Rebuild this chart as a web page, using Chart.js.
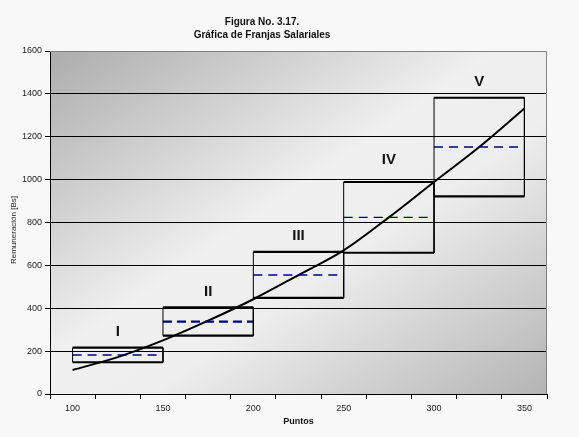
<!DOCTYPE html>
<html>
<head>
  <meta charset="utf-8">
  <title>Gráfica de Franjas Salariales</title>
  <script src="https://cdn.jsdelivr.net/npm/chart.js"></script>
  <style>
    html, body { margin: 0; padding: 0; background: #f8f8f8; }
    #wrap { position: relative; width: 579px; height: 437px; }
  </style>
</head>
<body>
<div id="wrap"><canvas id="chart"></canvas></div>
<script>
// puntos and salary curve
var puntos = [100, 125, 150, 175, 200, 225, 250, 275, 300, 325, 350];
var curva = [112, 172, 250, 342, 442, 555, 670, 824, 989, 1152, 1332];

// salary bands
var franjas = ['I', 'II', 'III', 'IV', 'V'];
var limites = [100, 150, 200, 250, 300, 350];
var minimos = [148, 272, 448, 659, 922];
var maximos = [216, 404, 663, 989, 1382];
var medios = [182, 338, 555, 824, 1152];

var xTickLabels = [100, 150, 200, 250, 300, 350];
var yTicks = [0, 200, 400, 600, 800, 1000, 1200, 1400, 1600];

var FONT = "'Liberation Sans', Arial, sans-serif";

var datasets = [];

for (var i = 0; i < franjas.length; i++) {
  var a = limites[i], b = limites[i + 1];
  datasets.push({
    label: 'Franja ' + franjas[i],
    data: [
      {x: a, y: minimos[i]}, {x: a, y: maximos[i]},
      {x: b, y: maximos[i]}, {x: b, y: minimos[i]},
      {x: a, y: minimos[i]}
    ],
    borderColor: '#000',
    borderWidth: 1,
    pointRadius: 0,
    tension: 0,
    segment: {
      borderWidth: function (ctx) {
        return ctx.p0.parsed.y === ctx.p1.parsed.y ? 2.2 : 1;
      }
    }
  });
  datasets.push({
    label: 'Medio ' + franjas[i],
    data: [{x: a, y: medios[i]}, {x: b, y: medios[i]}],
    borderColor: '#000080',
    borderWidth: i === 1 ? 2.2 : 1.4,
    borderDash: i === 1 ? [9, 5] : [9, 6],
    pointRadius: 0
  });
}

datasets.push({
  label: 'Curva',
  data: puntos.map(function (p, k) { return {x: p, y: curva[k]}; }),
  borderColor: '#000',
  borderWidth: 2,
  pointRadius: 0,
  tension: 0.4,
  cubicInterpolationMode: 'monotone'
});

// plot background: diagonal grey -> white -> grey
var bgPlugin = {
  id: 'bg',
  beforeDraw: function (chart) {
    var ca = chart.chartArea, ctx = chart.ctx;
    var W = ca.right - ca.left, H = ca.bottom - ca.top;
    var cx = (ca.left + ca.right) / 2, cy = (ca.top + ca.bottom) / 2;
    var k = W * H / (W * W + H * H);
    var g = ctx.createLinearGradient(cx - H * k, cy - W * k, cx + H * k, cy + W * k);
    g.addColorStop(0, '#acacac');
    g.addColorStop(0.45, '#f0f0f0');
    g.addColorStop(0.6, '#eeeeee');
    g.addColorStop(1, '#b4b4b4');
    ctx.save();
    ctx.fillStyle = g;
    ctx.fillRect(ca.left, ca.top, W, H);
    ctx.restore();
  },
  afterDraw: function (chart) {
    var ca = chart.chartArea, ctx = chart.ctx;
    var xs = chart.scales.x, ys = chart.scales.y;
    ctx.save();
    // grey frame top and right
    ctx.strokeStyle = '#808080';
    ctx.lineWidth = 1;
    ctx.beginPath();
    ctx.moveTo(ca.left, ca.top + 0.5);
    ctx.lineTo(ca.right - 0.5, ca.top + 0.5);
    ctx.lineTo(ca.right - 0.5, ca.bottom);
    ctx.stroke();

    // titles
    ctx.fillStyle = '#111';
    ctx.textAlign = 'center';
    ctx.textBaseline = 'middle';
    ctx.font = 'bold 10px ' + FONT;
    ctx.fillText('Figura No. 3.17.', 262, 22);
    ctx.fillText('Gráfica de Franjas Salariales', 262, 35);

    // y axis title
    ctx.save();
    ctx.translate(14, 230);
    ctx.rotate(-Math.PI / 2);
    ctx.fillStyle = '#222';
    ctx.font = '8px ' + FONT;
    ctx.fillText('Remuneración [Bs]', 0, 0);
    ctx.restore();

    // band numerals
    ctx.font = 'bold 15px ' + FONT;
    for (var i = 0; i < franjas.length; i++) {
      var x = xs.getPixelForValue((limites[i] + limites[i + 1]) / 2);
      var y = ys.getPixelForValue(maximos[i]) - (i === 3 ? 22 : 16);
      ctx.fillText(franjas[i], x, y);
    }
    ctx.restore();
  }
};

new Chart(document.getElementById('chart'), {
  type: 'line',
  data: { datasets: datasets },
  plugins: [bgPlugin],
  options: {
    responsive: true,
    maintainAspectRatio: false,
    animation: false,
    layout: { padding: { top: 51, right: 32, bottom: 0, left: 0 } },
    plugins: {
      legend: { display: false },
      tooltip: { enabled: false }
    },
    scales: {
      x: {
        type: 'linear',
        min: 87.5,
        max: 362.5,
        afterBuildTicks: function (scale) {
          var t = [];
          for (var v = 87.5; v <= 362.5; v += 12.5) t.push({value: v});
          scale.ticks = t;
        },
        afterFit: function (scale) { scale.height = 43; },
        border: { display: true, color: '#000', width: 1 },
        grid: {
          drawOnChartArea: false,
          drawTicks: true,
          tickLength: 5,
          tickColor: function (ctx) {
            var v = ctx.tick ? ctx.tick.value : 0;
            return ((v - 87.5) % 25 === 0) ? '#000' : 'rgba(0,0,0,0)';
          }
        },
        ticks: {
          autoSkip: false,
          maxRotation: 0,
          padding: 4,
          color: '#222',
          font: { family: FONT, size: 9 },
          callback: function (v) {
            return xTickLabels.indexOf(v) >= 0 ? String(v) : '';
          }
        },
        title: {
          display: true,
          text: 'Puntos',
          color: '#111',
          font: { family: FONT, size: 9, weight: 'bold' },
          padding: { top: 0, bottom: 10 }
        }
      },
      y: {
        min: 0,
        max: 1600,
        afterBuildTicks: function (scale) {
          scale.ticks = yTicks.map(function (v) { return {value: v}; });
        },
        afterFit: function (scale) { scale.width = 50; },
        border: { display: true, color: '#000', width: 1 },
        grid: {
          color: function (ctx) {
            return ctx.tick && (ctx.tick.value === 1600 || ctx.tick.value === 0) ? 'rgba(0,0,0,0)' : '#000';
          },
          tickColor: '#000',
          lineWidth: 1,
          tickLength: 5
        },
        ticks: {
          padding: 3,
          color: '#222',
          font: { family: FONT, size: 9 },
          callback: function (v) { return String(v); }
        }
      }
    }
  }
});
</script>
</body>
</html>
